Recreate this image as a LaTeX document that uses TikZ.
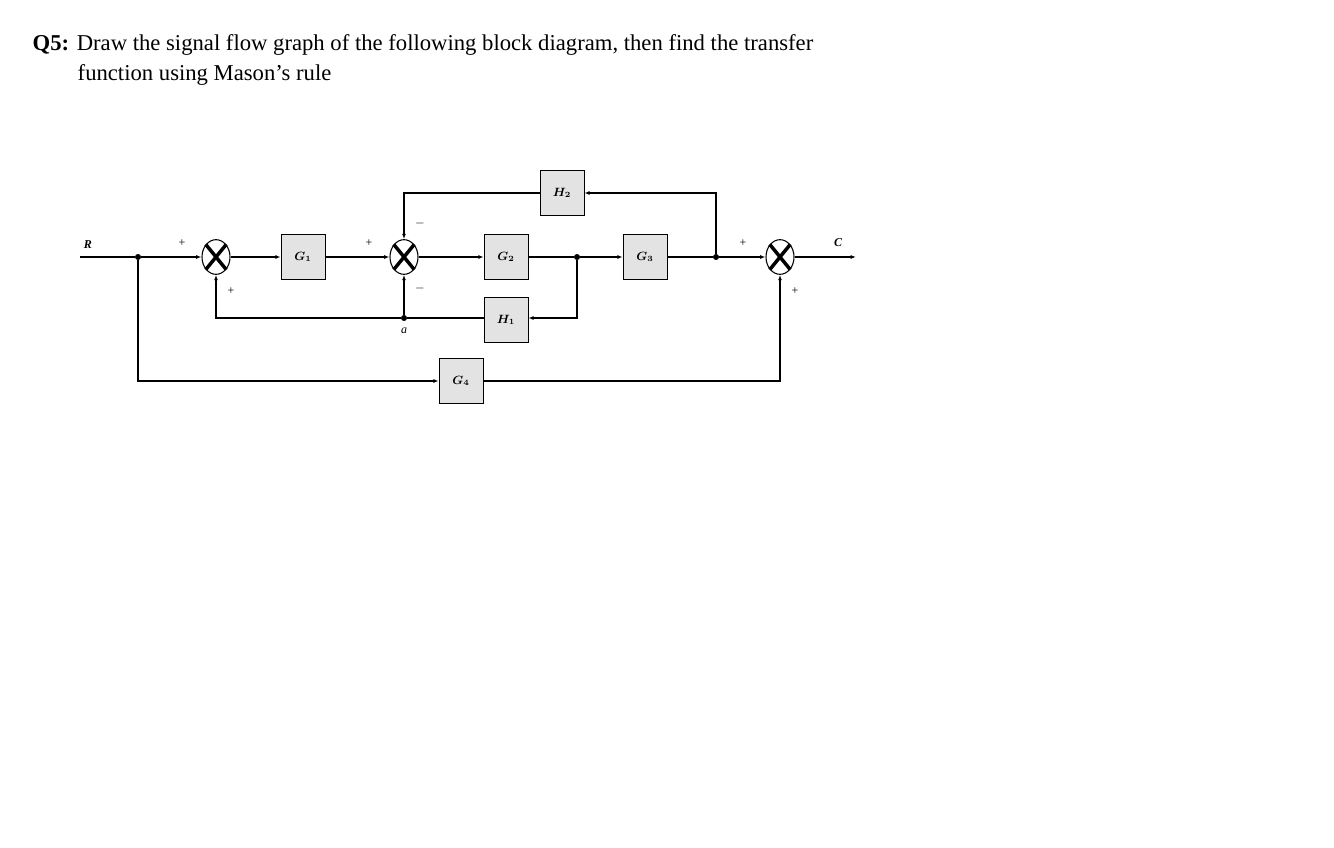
\documentclass[tikz,border=0pt]{standalone}
\usepackage{amsmath}
\usepackage{fontspec}
\setmainfont{Liberation Serif}
\usetikzlibrary{arrows.meta,shapes.geometric}
\begin{document}
\begin{tikzpicture}[x=0.75pt,y=-0.75pt,
  blk/.style={draw,fill=gray!22,minimum width=33pt,minimum height=34pt,inner sep=0pt,font=\small\bfseries\itshape},
  sum/.style={draw,thick,ellipse,minimum width=21pt,minimum height=26pt,inner sep=0pt},
  arr/.style={-{Latex[length=4pt,width=3pt]},thick},
  ln/.style={thick},
  dot/.style={circle,fill,inner sep=1.6pt},
  sg/.style={font=\small}]
\useasboundingbox (0,0) rectangle (1334,848);
\node[anchor=base west,font=\fontsize{17}{20}\selectfont] (t1) at (28,51) {\textbf{Q5:} Draw the signal flow graph of the following block diagram, then find the transfer};
\node[anchor=base west,font=\fontsize{17}{20}\selectfont] (t2) at (73,81) {function using Mason's rule};
\coordinate (Rin) at (80,257);
\node[dot] (d0) at (138,257) {};
\node[sum] (s1) at (216,257) {};
\node[blk] (g1) at (303,257) {$\boldsymbol{G_1}$};
\node[sum] (s2) at (404,257) {};
\node[blk] (g2) at (506,257) {$\boldsymbol{G_2}$};
\node[dot] (d1) at (577,257) {};
\node[blk] (g3) at (645,257) {$\boldsymbol{G_3}$};
\node[dot] (d2) at (716,257) {};
\node[sum] (s3) at (780,257) {};
\coordinate (Cout) at (856,257);
\node[blk] (h2) at (562,193) {$\boldsymbol{H_2}$};
\node[blk] (h1) at (506,320) {$\boldsymbol{H_1}$};
\node[blk] (g4) at (461,381) {$\boldsymbol{G_4}$};
\node[dot] (da) at (404,318) {};
\foreach \s in {s1,s2,s3}{
  \draw[line width=2.6pt] (\s.north west) -- (\s.south east) (\s.north east) -- (\s.south west);}
\node (R) at (88,245) {\small\bfseries\itshape R};
\node (C) at (838,243) {\small\bfseries\itshape C};
\node (a) at (404,331) {\small\itshape a};
\draw[ln] (Rin) -- (d0); \draw[arr] (d0) -- (s1);
\draw[arr] (s1) -- (g1); \draw[arr] (g1) -- (s2);
\draw[arr] (s2) -- (g2); \draw[ln] (g2) -- (d1); \draw[arr] (d1) -- (g3);
\draw[ln] (g3) -- (d2); \draw[arr] (d2) -- (s3); \draw[arr] (s3) -- (Cout);
\draw[arr] (d2) |- (h2); \draw[arr] (h2) -| (s2);
\draw[arr] (d1) |- (h1.east |- da); \draw[ln] (h1.west |- da) -- (da);
\draw[arr] (da) -| (s1); \draw[arr] (da) -- (s2);
\draw[arr] (d0) |- (g4); \draw[arr] (g4) -| (s3);
\node[sg] (p1) at (182,243) {+}; \node[sg] (p2) at (231,291) {+};
\node[sg] (p3) at (369,243) {+}; \node[sg] (m1) at (420,224) {$-$}; \node[sg] (m2) at (420,289) {$-$};
\node[sg] (p4) at (743,243) {+}; \node[sg] (p5) at (795,291) {+};
\end{tikzpicture}
\end{document}
